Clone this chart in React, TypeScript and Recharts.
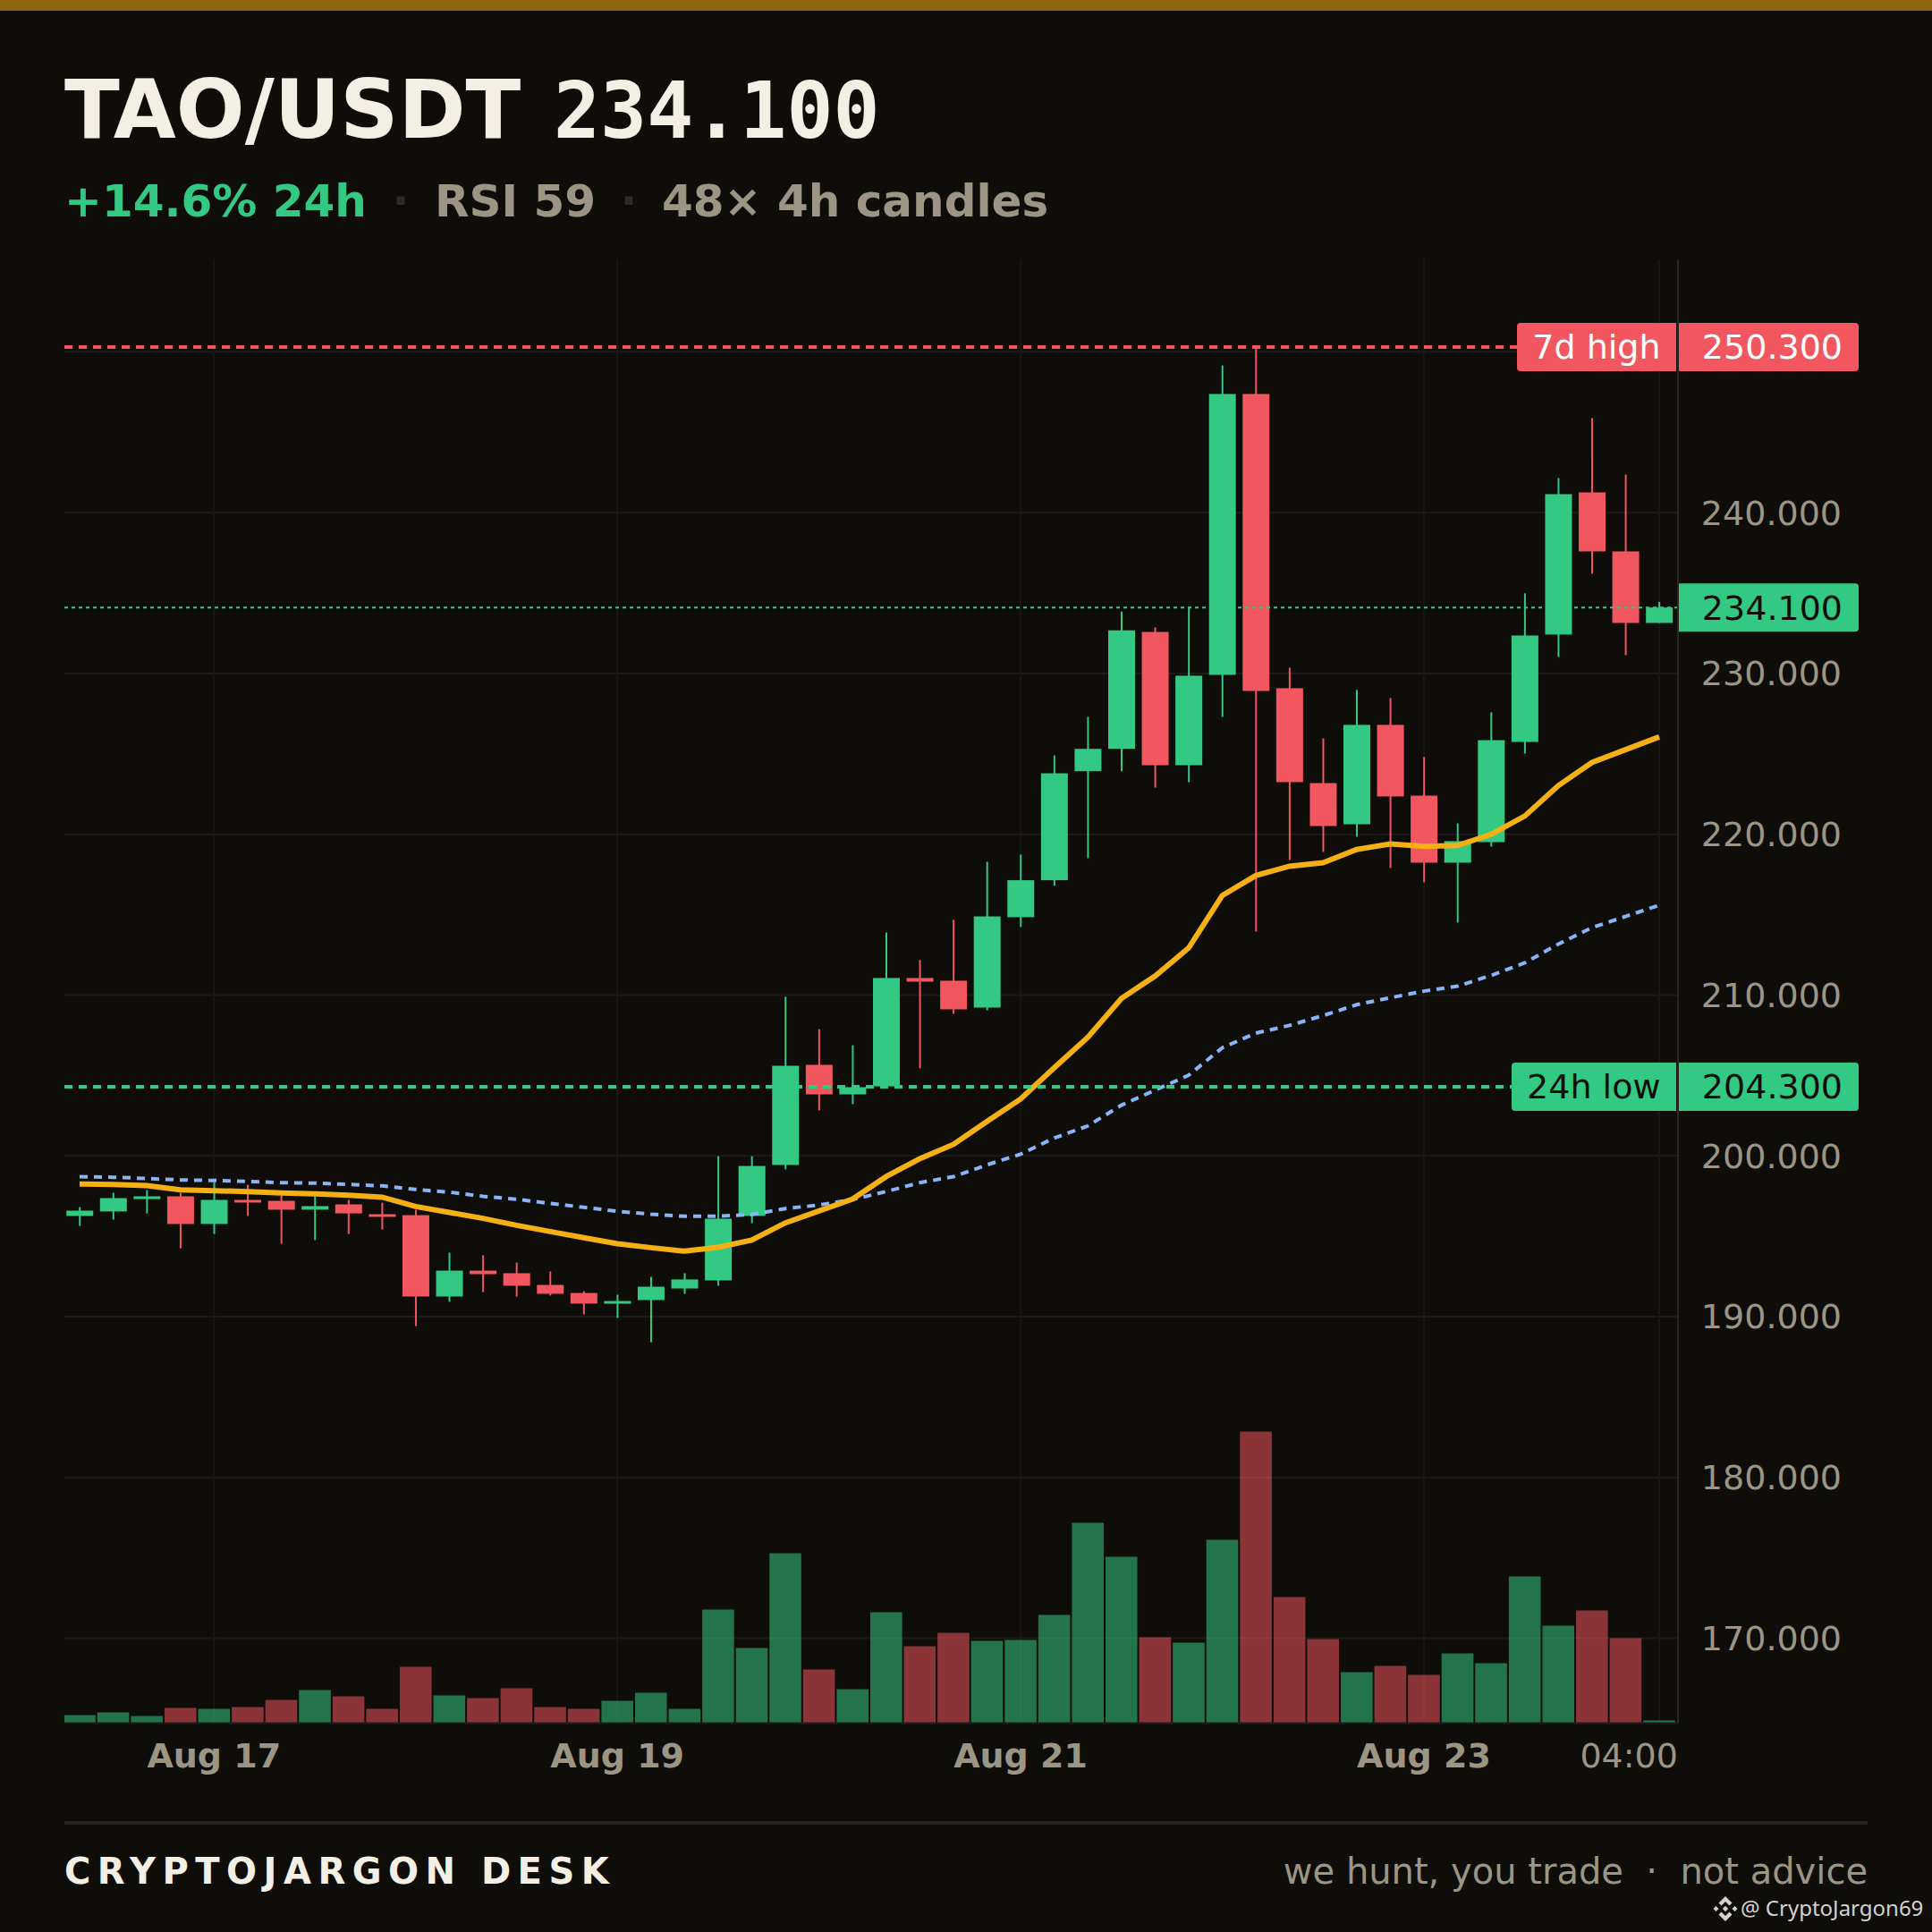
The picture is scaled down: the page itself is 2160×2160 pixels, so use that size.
import React from 'react';
import {
  Bar,
  CartesianGrid,
  Cell,
  ComposedChart,
  Line,
  ReferenceLine,
  XAxis,
  YAxis,
} from 'recharts';

const opens = [
  196.26, 196.54, 197.31, 197.48, 195.76, 197.26, 197.2, 196.65, 196.98, 196.37, 196.31, 191.25,
  192.86, 192.7, 191.97, 191.47, 190.81, 191.03, 191.75, 192.25, 196.26, 199.43, 205.66, 203.82,
  204.32, 211.06, 210.89, 209.22, 214.84, 217.14, 223.92, 225.31, 232.58, 224.29, 229.91, 247.38,
  229.08, 223.18, 220.62, 226.8, 222.4, 218.23, 219.51, 225.74, 232.42, 241.26, 237.59, 233.14,
];
const closes = [
  196.59, 197.37, 197.48, 195.76, 197.26, 197.15, 196.65, 196.87, 196.42, 196.26, 191.25, 192.86,
  192.64, 191.92, 191.42, 190.81, 190.97, 191.86, 192.31, 196.09, 199.37, 205.6, 203.82, 204.27,
  211.06, 210.83, 209.11, 214.89, 217.14, 223.79, 225.31, 232.68, 224.29, 229.86, 247.38, 228.91,
  223.24, 220.51, 226.8, 222.35, 218.23, 219.57, 225.85, 232.36, 241.15, 237.59, 233.14, 234.1,
];
const highs = [
  196.81, 197.7, 197.87, 197.7, 198.37, 198.2, 197.8, 197.48, 197.26, 197.09, 196.65, 193.98,
  193.81, 193.36, 192.81, 191.58, 191.36, 192.47, 192.7, 199.98, 199.98, 209.89, 207.88, 206.88,
  213.89, 212.17, 214.67, 218.29, 218.73, 224.9, 227.3, 233.85, 232.86, 234.14, 249.16, 250.3,
  230.36, 225.96, 228.97, 228.47, 224.8, 220.68, 227.58, 234.98, 242.15, 245.88, 242.37, 234.45,
];
const lows = [
  195.64, 196.03, 196.42, 194.25, 195.14, 196.26, 194.53, 194.76, 195.14, 195.42, 189.41, 190.92,
  191.53, 191.25, 191.31, 190.14, 189.92, 188.41, 191.42, 191.92, 195.81, 199.15, 202.82, 203.21,
  204.2, 205.44, 208.83, 209.05, 214.23, 216.8, 218.51, 223.92, 222.9, 223.24, 227.3, 213.95,
  218.4, 218.9, 219.84, 217.9, 217.01, 214.5, 219.23, 225.02, 231.03, 236.2, 231.14, 233.14,
];
const volumes = [
  9, 12, 8, 17, 16, 18, 26, 37, 30, 16, 63, 31, 28, 39, 18, 16, 25, 34, 16, 127, 84, 190, 60, 38,
  124, 86, 101, 92, 93, 121, 224, 186, 96, 90, 205, 326, 141, 94, 57, 64, 54, 78, 67, 164, 109,
  126, 95, 3,
];
const emaFast = [
  198.24, 198.22, 198.15, 197.89, 197.83, 197.78, 197.69, 197.63, 197.55, 197.43, 196.85, 196.48,
  196.11, 195.68, 195.29, 194.91, 194.53, 194.29, 194.07, 194.31, 194.76, 195.83, 196.57, 197.31,
  198.71, 199.82, 200.71, 202.14, 203.53, 205.48, 207.37, 209.79, 211.18, 212.93, 216.19, 217.43,
  218.01, 218.23, 219.05, 219.4, 219.25, 219.3, 219.99, 221.13, 223.02, 224.46, 225.26, 226.05,
];
const emaSlow = [
  198.7, 198.67, 198.59, 198.5, 198.47, 198.41, 198.33, 198.3, 198.22, 198.13, 197.91, 197.74,
  197.48, 197.3, 197.04, 196.8, 196.55, 196.37, 196.24, 196.24, 196.35, 196.72, 196.94, 197.28,
  197.78, 198.33, 198.7, 199.44, 200.1, 201.11, 201.86, 203.15, 204.08, 205.01, 206.72, 207.63,
  208.11, 208.72, 209.4, 209.83, 210.24, 210.55, 211.22, 212, 213.17, 214.19, 214.89, 215.58,
];
const priceTicks = [170, 180, 190, 200, 210, 220, 230, 240];
const gridPrices = [170, 180, 190, 200, 210, 220, 230, 240, 250];
const timeTicks = [4, 16, 28, 40, 47];
const timeLabels = ['Aug 17', 'Aug 19', 'Aug 21', 'Aug 23', '04:00'];
const timeDomain = [-0.4525, 47.56];

const HIGH_7D = 250.3;
const LOW_24H = 204.3;
const LAST_PRICE = 234.1;

const UP = '#34c982';
const DOWN = '#f2565f';
const BG = '#0e0d0a';
const MUTED = '#9c9584';
const CREAM = '#f4efe4';
const SANS = '"DejaVu Sans", sans-serif';
const MONO = '"DejaVu Sans Mono", monospace';

const rows = opens.map((open, i) => ({
  i,
  open,
  close: closes[i],
  range: [lows[i], highs[i]],
  volume: volumes[i],
  emaFast: emaFast[i],
  emaSlow: emaSlow[i],
}));

function Candle(props: any) {
  const { x, y, width, height, payload } = props;
  const [low, high] = payload.range;
  const color = payload.close >= payload.open ? UP : DOWN;
  const perUnit = height / (high - low);
  const top = y + (high - Math.max(payload.open, payload.close)) * perUnit;
  const bodyH = Math.abs(payload.close - payload.open) * perUnit;
  const cx = x + width / 2;
  return (
    <g>
      <line x1={cx} x2={cx} y1={y} y2={y + height} stroke={color} strokeWidth={2} />
      <rect x={x} y={top} width={width} height={Math.max(bodyH, 3)} fill={color} />
    </g>
  );
}

function PriceTick(props: any) {
  const { x, y, payload } = props;
  return (
    <text
      x={x + 175}
      y={y + 13.5}
      textAnchor="end"
      fontFamily={SANS}
      fontSize={38}
      fill={MUTED}
    >
      {payload.value.toFixed(3)}
    </text>
  );
}

function TimeTick(props: any) {
  const { x, y, payload } = props;
  const idx = timeTicks.indexOf(payload.value);
  const last = idx === timeLabels.length - 1;
  return (
    <text
      x={last ? x + 21 : x}
      y={y + 41}
      textAnchor={last ? 'end' : 'middle'}
      fontFamily={SANS}
      fontSize={38}
      fontWeight={last ? 400 : 700}
      fill={MUTED}
    >
      {timeLabels[idx]}
    </text>
  );
}

// price tag at the right end of a level line, optional name tag to the left of it
function LevelTag(props: any) {
  const { viewBox, price, name, nameWidth, fill, ink } = props;
  const right = viewBox.x + viewBox.width;
  const cy = viewBox.y;
  const top = cy - 27;
  return (
    <g>
      {name && (
        <>
          <path
            d={`M${right - 2} ${top}H${right - nameWidth + 4}q-4 0 -4 4V${top + 50}q0 4 4 4H${right - 2}Z`}
            fill={fill}
          />
          <text
            x={right - 19.5}
            y={cy + 13}
            textAnchor="end"
            fontFamily={SANS}
            fontSize={38}
            fill={ink}
          >
            {name}
          </text>
        </>
      )}
      <path
        d={`M${right} ${top}H${right + 198}q4 0 4 4V${top + 50}q0 4 -4 4H${right}Z`}
        fill={fill}
      />
      <text x={right + 184} y={cy + 13.5} textAnchor="end" fontFamily={SANS} fontSize={38} fill={ink}>
        {price.toFixed(3)}
      </text>
    </g>
  );
}

export default function App() {
  return (
    <div style={page}>
      <div style={topBar} />
      <svg width={2160} height={290} style={{ position: 'absolute', left: 0, top: 0 }}>
        <text x={72} y={154} fontFamily={SANS} fontWeight={700} fontSize={90.5} fill={CREAM}>
          TAO/USDT
        </text>
        <text x={619} y={154} fontFamily={MONO} fontWeight={700} fontSize={86.5} fill={CREAM}>
          234.100
        </text>
        <g fontFamily={SANS} fontWeight={700} fontSize={50}>
          <text x={72} y={242} fill={UP}>+14.6% 24h</text>
          <text x={448} y={242} textAnchor="middle" fill="#2e2b25">·</text>
          <text x={486} y={242} fill={MUTED}>RSI 59</text>
          <text x={703} y={242} textAnchor="middle" fill="#2e2b25">·</text>
          <text x={740} y={242} fill={MUTED}>48× 4h candles</text>
        </g>
      </svg>

      <div style={{ position: 'absolute', left: 0, top: 0 }}>
        <ComposedChart
          width={2160}
          height={1990}
          data={rows}
          margin={{ top: 290, right: 0, bottom: 0, left: 72 }}
        >
          <CartesianGrid
            vertical={false}
            horizontalValues={gridPrices}
            stroke="#1c1b17"
            strokeWidth={2}
            yAxisId="price"
          />
          <CartesianGrid
            horizontal={false}
            verticalValues={timeTicks}
            stroke="#181713"
            strokeWidth={2}
            yAxisId="price"
          />
          <XAxis
            dataKey="i"
            type="number"
            domain={timeDomain}
            ticks={timeTicks}
            allowDataOverflow
            height={63.5}
            axisLine={{ stroke: '#1f1d19', strokeWidth: 2 }}
            tickLine={false}
            tick={<TimeTick />}
            interval={0}
          />
          <XAxis
            xAxisId="candle"
            dataKey="i"
            type="number"
            domain={timeDomain}
            ticks={timeTicks}
            allowDataOverflow
            hide
          />
          <YAxis
            yAxisId="price"
            orientation="right"
            domain={[164.717, 255.75]}
            ticks={priceTicks}
            allowDataOverflow
            width={284}
            axisLine={{ stroke: '#2a2620', strokeWidth: 2 }}
            tickLine={false}
            tick={<PriceTick />}
            interval={0}
          />
          <YAxis yAxisId="volume" hide domain={[0, 1636.5]} allowDataOverflow />
          <Bar
            yAxisId="volume"
            dataKey="volume"
            barSize={35.6}
            isAnimationActive={false}
            fillOpacity={0.55}
          >
            {rows.map((row) => (
              <Cell key={row.i} fill={row.close >= row.open ? UP : DOWN} />
            ))}
          </Bar>
          <Bar
            xAxisId="candle"
            yAxisId="price"
            dataKey="range"
            barSize={30}
            shape={<Candle />}
            isAnimationActive={false}
          />
          <Line
            yAxisId="price"
            dataKey="emaSlow"
            stroke="#8ab4f8"
            strokeWidth={4}
            strokeDasharray="9 7"
            dot={false}
            activeDot={false}
            isAnimationActive={false}
          />
          <Line
            yAxisId="price"
            dataKey="emaFast"
            stroke="#f5b014"
            strokeWidth={6}
            dot={false}
            activeDot={false}
            isAnimationActive={false}
          />
          <ReferenceLine
            yAxisId="price"
            y={LAST_PRICE}
            stroke={UP}
            strokeWidth={2}
            strokeDasharray="4 4"
            label={<LevelTag price={LAST_PRICE} fill={UP} ink={BG} />}
          />
          <ReferenceLine
            yAxisId="price"
            y={HIGH_7D}
            stroke={DOWN}
            strokeWidth={4}
            strokeDasharray="9 7"
            strokeDashoffset={13}
            label={<LevelTag price={HIGH_7D} name="7d high" nameWidth={180} fill={DOWN} ink="#ffffff" />}
          />
          <ReferenceLine
            yAxisId="price"
            y={LOW_24H}
            stroke={UP}
            strokeWidth={4}
            strokeDasharray="9 7"
            strokeDashoffset={13}
            label={<LevelTag price={LOW_24H} name="24h low" nameWidth={186} fill={UP} ink={BG} />}
          />
        </ComposedChart>
      </div>

      <div style={footerRule} />
      <svg width={2160} height={160} style={{ position: 'absolute', left: 0, top: 2000 }}>
        <text x={72} y={106} fontFamily={SANS} fontWeight={700} fontSize={40} letterSpacing={7.5} fill={CREAM}>
          CRYPTOJARGON DESK
        </text>
        <text x={2088} y={106} textAnchor="end" fontFamily={SANS} fontSize={40} fill={MUTED} xmlSpace="preserve">
          we hunt, you trade  ·  not advice
        </text>
        <g transform="translate(1929 134)" fill="#d5d3cc">
          <polygon points="0,-14 7.5,-6.5 4.5,-3.5 0,-8 -4.5,-3.5 -7.5,-6.5" />
          <polygon points="0,14 7.5,6.5 4.5,3.5 0,8 -4.5,3.5 -7.5,6.5" />
          <polygon points="0,-3.2 3.2,0 0,3.2 -3.2,0" />
          <polygon points="-10.5,-3 -7.5,0 -10.5,3 -13.5,0" />
          <polygon points="10.5,-3 13.5,0 10.5,3 7.5,0" />
        </g>
        <text x={1946} y={141.7} fontFamily='"Noto Sans", sans-serif' fontSize={24} fill="#d5d3cc">
          @ CryptoJargon69
        </text>
      </svg>
    </div>
  );
}

const page: React.CSSProperties = {
  position: 'absolute',
  left: 0,
  top: 0,
  width: 2160,
  height: 2160,
  background: BG,
  overflow: 'hidden',
};

const topBar: React.CSSProperties = {
  position: 'absolute',
  left: 0,
  top: 0,
  width: 2160,
  height: 12,
  background: '#8b6510',
};

const footerRule: React.CSSProperties = {
  position: 'absolute',
  left: 72,
  top: 2036,
  width: 2016,
  height: 4,
  background: '#2a251f',
};
